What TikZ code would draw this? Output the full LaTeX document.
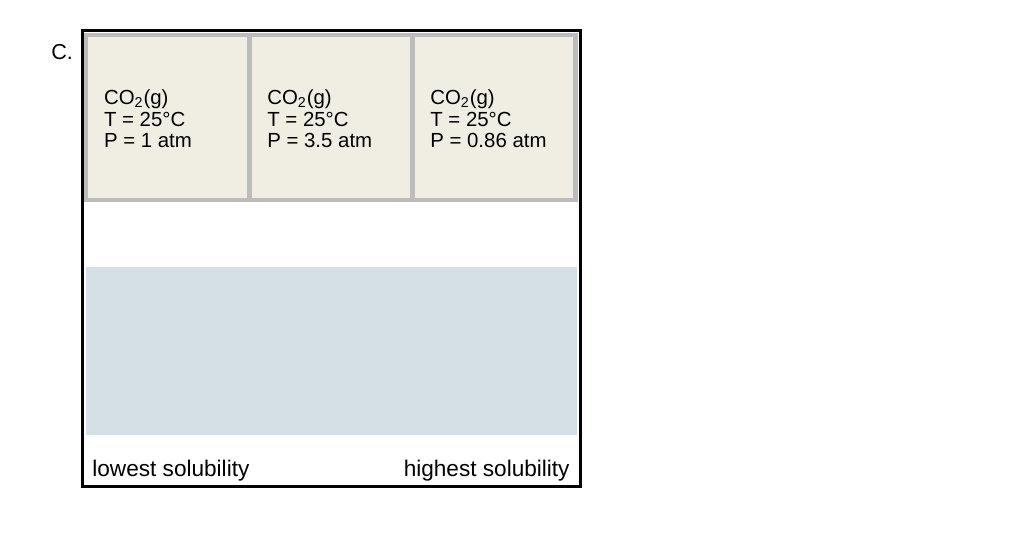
\documentclass[tikz,border=0pt]{standalone}
\usepackage{fontspec}
\setmainfont{Liberation Sans}
\usetikzlibrary{positioning}

\definecolor{gasfill}{HTML}{F0EEE3}
\definecolor{cellgray}{HTML}{BCBCBC}
\definecolor{water}{HTML}{D5E0E6}

\tikzset{
  gascell/.style = {draw = cellgray, fill = gasfill, line width = 2.2pt,
    minimum width = 81.5pt, minimum height = 82.5pt, inner sep = 0pt},
  gastext/.style = {anchor = west, align = left, inner sep = 0pt,
    font = \fontsize{10.2}{10.3}\selectfont},
  sollabel/.style = {inner sep = 0pt, font = \fontsize{11.3}{13}\selectfont}
}

\begin{document}
\begin{tikzpicture}[x = 0.5pt, y = -0.5pt]
  \useasboundingbox[fill = white] (0, 0) rectangle (1024, 545);

  \node[anchor = base west, inner sep = 0pt, font = \fontsize{10.8}{12}\selectfont]
    (part) at (51, 59.5) {C.};

  % gas above the liquid
  \node[gascell] (cell1) at (167.75, 117.5) {};
  \node[gascell] (cell2) at (331, 117.5) {};
  \node[gascell] (cell3) at (494, 117.5) {};

  \node[gastext] (gas1) at ([xshift = 9.8pt, yshift = -0.6pt]cell1.west)
    {CO\textsubscript{2}(g)\\[1pt]T = 25°C\\P = 1 atm};
  \node[gastext] (gas2) at ([xshift = 9.8pt, yshift = -0.6pt]cell2.west)
    {CO\textsubscript{2}(g)\\[1pt]T = 25°C\\P = 3.5 atm};
  \node[gastext] (gas3) at ([xshift = 9.8pt, yshift = -0.6pt]cell3.west)
    {CO\textsubscript{2}(g)\\[1pt]T = 25°C\\P = 0.86 atm};

  % liquid
  \fill[water] (86, 267) rectangle (577, 435);

  \node[sollabel, anchor = base west] (low) at (92, 477) {lowest solubility};
  \node[sollabel, anchor = base east] (high) at (570, 477) {highest solubility};

  \draw[line width = 1.5pt] (82, 31) rectangle (580, 487);
\end{tikzpicture}
\end{document}
